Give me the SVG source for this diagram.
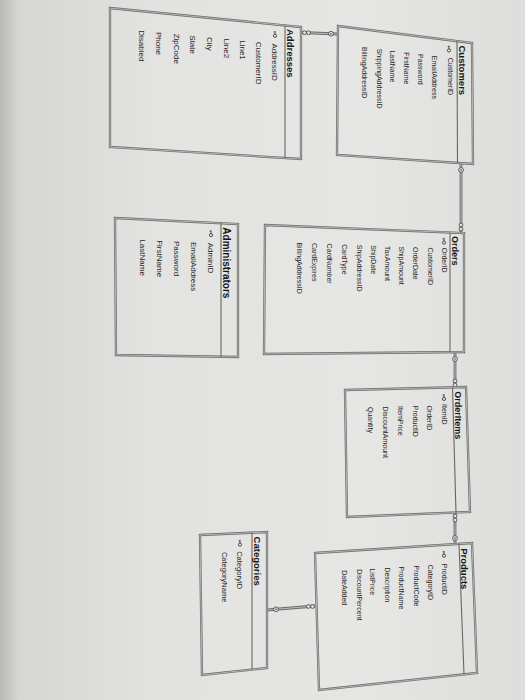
<svg xmlns="http://www.w3.org/2000/svg" width="525" height="700" viewBox="0 0 525 700">
<defs>
<linearGradient id="paper" x1="0" y1="0" x2="1" y2="0">
<stop offset="0" stop-color="#b9b9b7"/>
<stop offset="0.035" stop-color="#d6d6d4"/>
<stop offset="0.3" stop-color="#e2e2e0"/>
<stop offset="0.7" stop-color="#e5e5e3"/>
<stop offset="1" stop-color="#dddddb"/>
</linearGradient>
<symbol id="key" overflow="visible">
<circle cx="1.4" cy="0" r="1.6" fill="none" stroke="#2a2a2a" stroke-width="0.8"/>
<path d="M-0.2,0 H-3.4 M-2.4,0 V1.3" fill="none" stroke="#2a2a2a" stroke-width="0.8"/>
</symbol>
<symbol id="one" overflow="visible">
<circle cx="0" cy="0" r="2.4" fill="#e2e2e0" stroke="#444" stroke-width="0.8"/>
<circle cx="0" cy="0" r="0.8" fill="#444"/>
</symbol>
<symbol id="manyV" overflow="visible">
<circle cx="0" cy="-2" r="1.9" fill="#e2e2e0" stroke="#444" stroke-width="0.8"/>
<circle cx="0" cy="2" r="1.9" fill="#e2e2e0" stroke="#444" stroke-width="0.8"/>
</symbol>
<symbol id="manyH" overflow="visible">
<circle cx="-2" cy="0" r="1.9" fill="#e2e2e0" stroke="#444" stroke-width="0.8"/>
<circle cx="2" cy="0" r="1.9" fill="#e2e2e0" stroke="#444" stroke-width="0.8"/>
</symbol>
</defs>
<style>
.box{fill:#ffffff;fill-opacity:0.06;stroke:#6a6a6a;stroke-width:2.3}
.boxin{fill:none;stroke:#d6d6d4;stroke-width:0.7}
.div{stroke:#666;stroke-width:1.1;fill:none}
.f{font-family:"Liberation Sans",Arial,sans-serif;fill:#262626}
.t{font-family:"Liberation Sans",Arial,sans-serif;fill:#161616;font-weight:bold}
.s7{font-size:7px}.s75{font-size:7.5px}.s8{font-size:8px}
.s9{font-size:9px}.s95{font-size:9.5px}.s10{font-size:10px}
.cl{fill:none;stroke:#6a6a6a;stroke-width:2.8}
.cli{fill:none;stroke:#d2d2d0;stroke-width:0.8}
</style>
<rect x="0" y="0" width="525" height="700" fill="url(#paper)"/>

<g id="connectors">
<path class="cl" d="M301,32.5 L338,34"/>
<path class="cli" d="M301,32.5 L338,34"/>
<path class="cl" d="M461,164 L461,233"/>
<path class="cli" d="M461,164 L461,233"/>
<path class="cl" d="M455,352 L455,388"/>
<path class="cli" d="M455,352 L455,388"/>
<path class="cl" d="M455,513 L455,545"/>
<path class="cli" d="M455,513 L455,545"/>
<path class="cl" d="M267,610 L315,606"/>
<path class="cli" d="M267,610 L315,606"/>
<use href="#manyH" x="306.5" y="32.7"/>
<use href="#one" x="331" y="33.7"/>
<use href="#one" x="461" y="170"/>
<use href="#manyV" x="461" y="227"/>
<use href="#one" x="455" y="359"/>
<use href="#manyV" x="455" y="383"/>
<use href="#manyV" x="455" y="518"/>
<use href="#one" x="455" y="538"/>
<use href="#one" x="276" y="609.3"/>
<use href="#manyH" x="310.5" y="606.5"/>
</g>

<g id="Customers">
<polygon class="box" points="338,26 472,43 473,164 337,155"/>
<polygon class="boxin" points="338,26 472,43 473,164 337,155"/>
<path class="div" d="M457,41.1 L457.5,162.9"/>
<text class="t s95" transform="translate(459,45.5) rotate(90)">Customers</text>
<use href="#key" x="449" y="49" transform="rotate(90 449 49)"/>
<text class="f s7" transform="translate(447.6,57.8) rotate(90)">CustomerID</text>
<text class="f s7" transform="translate(431.6,55.8) rotate(90)">EmailAddress</text>
<text class="f s7" transform="translate(417.6,54) rotate(90)">Password</text>
<text class="f s7" transform="translate(403.6,52.2) rotate(90)">FirstName</text>
<text class="f s7" transform="translate(389.6,50.4) rotate(90)">LastName</text>
<text class="f s7" transform="translate(376.6,48.7) rotate(90)">ShippingAddressID</text>
<text class="f s7" transform="translate(361.6,46.9) rotate(90)">BillingAddressID</text>
</g>

<g id="Addresses">
<polygon class="box" points="110,8 301,27 301,159 110,147"/>
<polygon class="boxin" points="110,8 301,27 301,159 110,147"/>
<path class="div" d="M285,25.4 L285,158"/>
<text class="t s95" transform="translate(287,29) rotate(90)">Addresses</text>
<use href="#key" x="275" y="34.4" transform="rotate(90 275 34.4)"/>
<text class="f s8" transform="translate(272.2,43.4) rotate(90)">AddressID</text>
<text class="f s8" transform="translate(256.2,41.8) rotate(90)">CustomerID</text>
<text class="f s8" transform="translate(240.2,40.2) rotate(90)">Line1</text>
<text class="f s8" transform="translate(224.2,38.6) rotate(90)">Line2</text>
<text class="f s8" transform="translate(207.2,36.9) rotate(90)">City</text>
<text class="f s8" transform="translate(190.2,35.3) rotate(90)">State</text>
<text class="f s8" transform="translate(174.2,33.7) rotate(90)">ZipCode</text>
<text class="f s8" transform="translate(156.2,31.9) rotate(90)">Phone</text>
<text class="f s8" transform="translate(139.2,30.2) rotate(90)">Disabled</text>
</g>

<g id="Administrators">
<polygon class="box" points="115,218 238,224 238,357 116,355"/>
<polygon class="boxin" points="115,218 238,224 238,357 116,355"/>
<path class="div" d="M221,223.2 L221,356.7"/>
<text class="t s10" transform="translate(223,227.3) rotate(90)">Administrators</text>
<use href="#key" x="211" y="233.7" transform="rotate(90 211 233.7)"/>
<text class="f s8" transform="translate(208.2,242.7) rotate(90)">AdminID</text>
<text class="f s8" transform="translate(191.2,241.9) rotate(90)">EmailAddress</text>
<text class="f s8" transform="translate(174.2,241) rotate(90)">Password</text>
<text class="f s8" transform="translate(157.2,240.2) rotate(90)">FirstName</text>
<text class="f s8" transform="translate(140.2,239.4) rotate(90)">LastName</text>
</g>

<g id="Categories">
<polygon class="box" points="200,535 267,532 267,668 202,675"/>
<polygon class="boxin" points="200,535 267,532 267,668 202,675"/>
<path class="div" d="M252,532.7 L252,669.6"/>
<text class="t s95" transform="translate(254,536.6) rotate(90)">Categories</text>
<use href="#key" x="240" y="543.2" transform="rotate(90 240 543.2)"/>
<text class="f s75" transform="translate(237.4,551.2) rotate(90)">CategoryID</text>
<text class="f s75" transform="translate(222.4,551.9) rotate(90)">CategoryName</text>
</g>

<g id="Orders">
<polygon class="box" points="265,225 464,233 464,352 264,354"/>
<polygon class="boxin" points="265,225 464,233 464,352 264,354"/>
<path class="div" d="M450,232.4 L450,352.1"/>
<text class="t s9" transform="translate(452,236) rotate(90)">Orders</text>
<use href="#key" x="444" y="241.2" transform="rotate(90 444 241.2)"/>
<text class="f s7" transform="translate(441.6,247.7) rotate(90)">OrderID</text>
<text class="f s7" transform="translate(427.6,247.6) rotate(90)">CustomerID</text>
<text class="f s7" transform="translate(412.6,247) rotate(90)">OrderDate</text>
<text class="f s7" transform="translate(398.6,246.5) rotate(90)">ShipAmount</text>
<text class="f s7" transform="translate(384.6,245.9) rotate(90)">TaxAmount</text>
<text class="f s7" transform="translate(370.6,245.3) rotate(90)">ShipDate</text>
<text class="f s7" transform="translate(356.6,244.8) rotate(90)">ShipAddressID</text>
<text class="f s7" transform="translate(341.6,244.2) rotate(90)">CardType</text>
<text class="f s7" transform="translate(326.6,243.6) rotate(90)">CardNumber</text>
<text class="f s7" transform="translate(311.6,243) rotate(90)">CardExpires</text>
<text class="f s7" transform="translate(296.6,242.4) rotate(90)">BillingAddressID</text>
</g>

<g id="OrderItems">
<polygon class="box" points="345,390 466,387 470,512 347,517"/>
<polygon class="boxin" points="345,390 466,387 470,512 347,517"/>
<path class="div" d="M452.5,387.4 L456,512.9"/>
<text class="t s9" transform="translate(455,391.3) rotate(90)">OrderItems</text>
<use href="#key" x="444" y="397.5" transform="rotate(90 444 397.5)"/>
<text class="f s7" transform="translate(441.6,404) rotate(90)">ItemID</text>
<text class="f s7" transform="translate(426.6,405.4) rotate(90)">OrderID</text>
<text class="f s7" transform="translate(412.6,405.8) rotate(90)">ProductID</text>
<text class="f s7" transform="translate(397.6,406.1) rotate(90)">ItemPrice</text>
<text class="f s7" transform="translate(382.6,406.5) rotate(90)">DiscountAmount</text>
<text class="f s7" transform="translate(367.6,406.9) rotate(90)">Quantity</text>
</g>

<g id="Products">
<polygon class="box" points="315,553 472,543 477,673 319,690"/>
<polygon class="boxin" points="315,553 472,543 477,673 319,690"/>
<path class="div" d="M459,543.8 L464,674.4"/>
<text class="t s95" transform="translate(461,548.2) rotate(90)">Products</text>
<use href="#key" x="444" y="554.3" transform="rotate(90 444 554.3)"/>
<text class="f s7" transform="translate(441.6,563.8) rotate(90)">ProductID</text>
<text class="f s7" transform="translate(427.6,564.7) rotate(90)">CategoryID</text>
<text class="f s7" transform="translate(413.6,565.6) rotate(90)">ProductCode</text>
<text class="f s7" transform="translate(398.6,566.5) rotate(90)">ProductName</text>
<text class="f s7" transform="translate(384.6,567.4) rotate(90)">Description</text>
<text class="f s7" transform="translate(369.6,568.4) rotate(90)">ListPrice</text>
<text class="f s7" transform="translate(356.6,569.2) rotate(90)">DiscountPercent</text>
<text class="f s7" transform="translate(341.6,570.2) rotate(90)">DateAdded</text>
</g>
</svg>
